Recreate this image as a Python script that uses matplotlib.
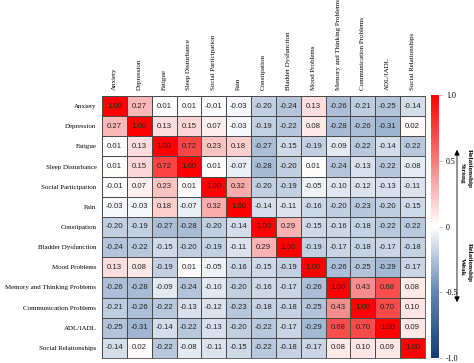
import matplotlib
matplotlib.use("Agg")
import matplotlib.pyplot as plt
import numpy as np
from matplotlib.colors import LinearSegmentedColormap

labels = ["Anxiety", "Depression", "Fatigue", "Sleep Disturbance", "Social Participation",
          "Pain", "Constipation", "Bladder Dysfunction", "Mood Problems",
          "Memory and Thinking Problems", "Communication Problems", "ADL/IADL",
          "Social Relationships"]

corr = [
    [1.00, 0.27, 0.01, 0.01, -0.01, -0.03, -0.20, -0.24, 0.13, -0.26, -0.21, -0.25, -0.14],
    [0.27, 1.00, 0.13, 0.15, 0.07, -0.03, -0.19, -0.22, 0.08, -0.28, -0.26, -0.31, 0.02],
    [0.01, 0.13, 1.00, 0.72, 0.23, 0.18, -0.27, -0.15, -0.19, -0.09, -0.22, -0.14, -0.22],
    [0.01, 0.15, 0.72, 1.00, 0.01, -0.07, -0.28, -0.20, 0.01, -0.24, -0.13, -0.22, -0.08],
    [-0.01, 0.07, 0.23, 0.01, 1.00, 0.32, -0.20, -0.19, -0.05, -0.10, -0.12, -0.13, -0.11],
    [-0.03, -0.03, 0.18, -0.07, 0.32, 1.00, -0.14, -0.11, -0.16, -0.20, -0.23, -0.20, -0.15],
    [-0.20, -0.19, -0.27, -0.28, -0.20, -0.14, 1.00, 0.29, -0.15, -0.16, -0.18, -0.22, -0.22],
    [-0.24, -0.22, -0.15, -0.20, -0.19, -0.11, 0.29, 1.00, -0.19, -0.17, -0.18, -0.17, -0.18],
    [0.13, 0.08, -0.19, 0.01, -0.05, -0.16, -0.15, -0.19, 1.00, -0.26, -0.25, -0.29, -0.17],
    [-0.26, -0.28, -0.09, -0.24, -0.10, -0.20, -0.16, -0.17, -0.26, 1.00, 0.43, 0.68, 0.08],
    [-0.21, -0.26, -0.22, -0.13, -0.12, -0.23, -0.18, -0.18, -0.25, 0.43, 1.00, 0.70, 0.10],
    [-0.25, -0.31, -0.14, -0.22, -0.13, -0.20, -0.22, -0.17, -0.29, 0.68, 0.70, 1.00, 0.09],
    [-0.14, 0.02, -0.22, -0.08, -0.11, -0.15, -0.22, -0.18, -0.17, 0.08, 0.10, 0.09, 1.00],
]
cbar_ticks = [-1.0, -0.5, 0, 0.5, 1.0]
cbar_ticklabels = ["-1.0", "-0.5", "0", "0.5", "1.0"]

serif = "Liberation Serif"
sans = "Liberation Sans"

cmap = LinearSegmentedColormap.from_list(
    "bwr_custom",
    [(0.0, "#163a6e"), (0.25, "#6386b4"), (0.5, "#ffffff"), (0.75, "#f77c7c"), (1.0, "#ff0000")])

W, H = 474, 363
fig = plt.figure(figsize=(W / 100, H / 100), dpi=100)

# heatmap axes in pixel coords
x0, x1, y0, y1 = 102, 425, 96, 358
ax = fig.add_axes([x0 / W, 1 - y1 / H, (x1 - x0) / W, (y1 - y0) / H])
data = np.array(corr)
n = len(labels)
mesh = ax.pcolormesh(data, cmap=cmap, vmin=-1, vmax=1, edgecolors="#4a4a4a", linewidth=0.5)
ax.set_xlim(0, n)
ax.set_ylim(n, 0)

for i in range(n):
    for j in range(n):
        ax.text(j + 0.5, i + 0.5, "%.2f" % data[i, j], ha="center", va="center",
                fontsize=5.6, family=sans, color="#222222")

ax.set_xticks(np.arange(n) + 0.5)
ax.set_yticks(np.arange(n) + 0.5)
ax.xaxis.tick_top()
ax.set_xticklabels(labels, rotation=90, family=serif, fontsize=5.0)
ax.set_yticklabels(labels, family=serif, fontsize=5.0)
ax.tick_params(length=0, pad=4)
for s in ax.spines.values():
    s.set_color("#4a4a4a")
    s.set_linewidth(0.6)

# colorbar
cax = fig.add_axes([431 / W, 1 - 358 / H, 8 / W, (358 - 95) / H])
cb = fig.colorbar(mesh, cax=cax)
cb.set_ticks(cbar_ticks)
cb.set_ticklabels(cbar_ticklabels)
cb.outline.set_visible(False)
cax.tick_params(length=2, width=0.4, pad=3, labelsize=5.8, color="#888888")
for t in cax.get_yticklabels():
    t.set_family(serif)

# strong / weak arrow
fig.patches.append(matplotlib.patches.FancyArrowPatch(
    (457 / W, 1 - 305 / H), (457 / W, 1 - 147 / H), transform=fig.transFigure,
    arrowstyle="<|-|>", mutation_scale=8, color="black", linewidth=0.6))
fig.text(462 / W, 1 - 173 / H, "Strong", rotation=270, ha="center", va="center",
         family=serif, fontsize=5.2, fontweight="bold")
fig.text(469 / W, 1 - 169 / H, "Relationship", rotation=270, ha="center", va="center",
         family=serif, fontsize=5.2, fontweight="bold")
fig.text(462 / W, 1 - 267 / H, "Weak", rotation=270, ha="center", va="center",
         family=serif, fontsize=5.2, fontweight="bold")
fig.text(469 / W, 1 - 263 / H, "Relationship", rotation=270, ha="center", va="center",
         family=serif, fontsize=5.2, fontweight="bold")

fig.savefig("out.png", dpi=100)
